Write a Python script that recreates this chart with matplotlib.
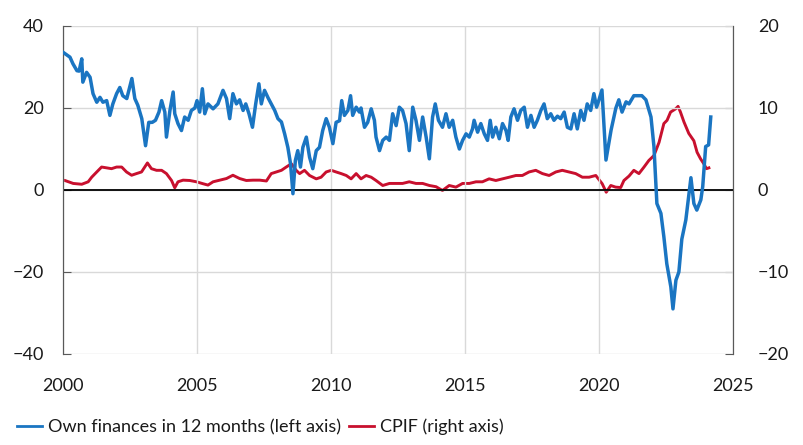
import matplotlib
matplotlib.use("Agg")
import matplotlib.pyplot as plt
from matplotlib.lines import Line2D

plt.rcParams['font.family'] = ['Lato', 'DejaVu Sans']

# Own finances in 12 months (left axis) - time in decimal years
blue_t = [2000.00, 2000.26, 2000.37, 2000.52, 2000.60, 2000.70, 2000.74, 2000.88,
          2001.01, 2001.12, 2001.26, 2001.38, 2001.49, 2001.63, 2001.75, 2001.86,
          2002.00, 2002.12, 2002.23, 2002.38, 2002.57, 2002.68, 2002.79, 2002.94,
          2003.08, 2003.20, 2003.33, 2003.45, 2003.58, 2003.68, 2003.80, 2003.86,
          2003.99, 2004.11, 2004.17, 2004.29, 2004.42, 2004.54, 2004.67, 2004.79,
          2004.92, 2005.00, 2005.10, 2005.20, 2005.29, 2005.41, 2005.60, 2005.78,
          2005.97, 2006.10, 2006.22, 2006.34, 2006.47, 2006.59, 2006.72, 2006.82,
          2006.94, 2007.07, 2007.19, 2007.31, 2007.40, 2007.52, 2007.65, 2007.77,
          2007.90, 2008.02, 2008.15, 2008.27, 2008.39, 2008.49, 2008.58, 2008.67,
          2008.76, 2008.86, 2008.95, 2009.08, 2009.20, 2009.32, 2009.45, 2009.57,
          2009.69, 2009.82, 2009.94, 2010.07, 2010.19, 2010.32, 2010.40, 2010.50,
          2010.63, 2010.73, 2010.81, 2010.94, 2011.06, 2011.12, 2011.25, 2011.37,
          2011.50, 2011.62, 2011.68, 2011.81, 2011.93, 2012.06, 2012.18, 2012.30,
          2012.43, 2012.55, 2012.67, 2012.80, 2012.92, 2013.05, 2013.17, 2013.30,
          2013.42, 2013.55, 2013.67, 2013.79, 2013.89, 2014.01, 2014.16, 2014.29,
          2014.41, 2014.54, 2014.66, 2014.79, 2014.91, 2015.04, 2015.16, 2015.28,
          2015.34, 2015.47, 2015.59, 2015.72, 2015.84, 2015.94, 2016.03, 2016.15,
          2016.28, 2016.40, 2016.53, 2016.61, 2016.71, 2016.83, 2016.96, 2017.08,
          2017.21, 2017.33, 2017.46, 2017.58, 2017.70, 2017.83, 2017.95, 2018.07,
          2018.20, 2018.32, 2018.45, 2018.57, 2018.70, 2018.82, 2018.95, 2019.07,
          2019.19, 2019.32, 2019.44, 2019.56, 2019.69, 2019.81, 2019.91, 2020.00,
          2020.11, 2020.26, 2020.45, 2020.63, 2020.74, 2020.86, 2021.01, 2021.12,
          2021.30, 2021.60, 2021.75, 2021.94, 2022.05, 2022.16, 2022.31, 2022.42,
          2022.53, 2022.68, 2022.76, 2022.87, 2022.98, 2023.09, 2023.24, 2023.43,
          2023.54, 2023.65, 2023.80, 2023.87, 2023.98, 2024.09, 2024.17]
blue_v = [33.6, 32.4, 30.8, 29.1, 29.0, 32.0, 26.3, 28.7,
          27.5, 23.5, 21.4, 22.6, 21.4, 21.8, 18.2, 21.0,
          23.5, 25.0, 23.0, 22.3, 27.2, 22.3, 20.7, 17.4,
          10.8, 16.5, 16.5, 17.0, 19.0, 21.8, 19.0, 12.9,
          19.4, 23.9, 18.6, 16.2, 14.5, 17.8, 17.0, 19.4,
          20.0, 21.8, 19.0, 24.7, 18.6, 21.0, 19.8, 21.0,
          24.3, 22.3, 17.4, 23.5, 21.0, 22.0, 19.4, 21.0,
          18.6, 15.3, 21.0, 25.9, 21.0, 24.3, 22.5, 21.0,
          19.4, 17.4, 16.6, 13.7, 10.4, 6.4, -0.9, 7.2,
          9.6, 5.6, 10.4, 12.9, 8.0, 5.2, 9.6, 10.4,
          14.5, 17.4, 15.3, 11.3, 16.5, 16.9, 21.8, 18.2,
          19.4, 23.0, 18.2, 20.2, 19.0, 20.0, 15.3, 16.5,
          19.8, 17.0, 12.9, 9.6, 12.1, 12.9, 12.1, 18.6,
          15.7, 20.2, 19.4, 16.2, 9.6, 20.2, 17.0, 12.1,
          17.8, 12.9, 7.6, 17.8, 21.0, 17.0, 15.3, 18.6,
          15.3, 17.0, 12.9, 10.0, 12.1, 13.7, 12.9, 14.9,
          17.0, 14.1, 16.2, 13.7, 12.1, 17.0, 12.9, 15.3,
          12.5, 16.2, 14.5, 12.1, 17.8, 19.8, 17.0, 19.4,
          20.2, 15.3, 18.2, 15.3, 17.0, 19.4, 21.0, 17.4,
          18.6, 17.0, 18.0, 17.4, 19.0, 15.3, 14.9, 18.6,
          14.9, 19.4, 17.0, 21.0, 19.4, 23.5, 20.2, 22.0,
          24.4, 7.3, 14.6, 20.0, 22.0, 19.0, 21.5, 21.0,
          23.0, 23.0, 22.0, 17.8, 10.6, -3.3, -5.7, -11.4,
          -18.0, -23.6, -29.0, -22.0, -20.0, -12.0, -7.3, 3.0,
          -3.3, -4.9, -2.4, 0.8, 10.6, 11.0, 17.8]

# CPIF (right axis)
red_t = [2000.00, 2000.07, 2000.38, 2000.70, 2000.94, 2001.07, 2001.26, 2001.44,
         2001.63, 2001.81, 2002.00, 2002.19, 2002.37, 2002.56, 2002.74, 2002.93,
         2003.15, 2003.30, 2003.49, 2003.68, 2003.86, 2004.05, 2004.17, 2004.29,
         2004.48, 2004.73, 2004.98, 2005.23, 2005.41, 2005.60, 2005.85, 2006.10,
         2006.34, 2006.59, 2006.84, 2007.09, 2007.34, 2007.59, 2007.77, 2007.96,
         2008.15, 2008.33, 2008.52, 2008.70, 2008.83, 2009.01, 2009.20, 2009.45,
         2009.63, 2009.82, 2010.01, 2010.19, 2010.38, 2010.57, 2010.75, 2010.94,
         2011.12, 2011.31, 2011.50, 2011.68, 2011.93, 2012.18, 2012.43, 2012.67,
         2012.92, 2013.17, 2013.42, 2013.67, 2013.92, 2014.16, 2014.41, 2014.66,
         2014.91, 2015.16, 2015.41, 2015.65, 2015.90, 2016.15, 2016.40, 2016.65,
         2016.90, 2017.14, 2017.39, 2017.64, 2017.89, 2018.14, 2018.39, 2018.63,
         2018.88, 2019.13, 2019.38, 2019.63, 2019.88, 2020.12, 2020.27, 2020.44,
         2020.62, 2020.81, 2020.93, 2021.12, 2021.30, 2021.49, 2021.68, 2021.86,
         2022.05, 2022.24, 2022.42, 2022.54, 2022.67, 2022.86, 2022.95, 2023.04,
         2023.17, 2023.35, 2023.54, 2023.66, 2023.79, 2023.91, 2024.01, 2024.10]
red_v = [1.2, 1.16, 0.8, 0.7, 1.0, 1.56, 2.2, 2.8,
         2.7, 2.6, 2.8, 2.8, 2.2, 1.8, 2.0, 2.2,
         3.3, 2.6, 2.4, 2.4, 2.0, 1.16, 0.27, 1.0,
         1.2, 1.16, 1.0, 0.76, 0.6, 1.0, 1.2, 1.4,
         1.8, 1.4, 1.16, 1.2, 1.2, 1.1, 2.0, 2.2,
         2.4, 2.8, 3.2, 2.4, 2.0, 2.4, 1.77, 1.36,
         1.56, 2.2, 2.4, 2.2, 2.0, 1.77, 1.36, 2.0,
         1.36, 1.77, 1.56, 1.16, 0.55, 0.8, 0.8, 0.8,
         1.0, 0.8, 0.8, 0.55, 0.4, -0.06, 0.55, 0.35,
         0.8, 0.8, 1.0, 1.0, 1.36, 1.16, 1.36, 1.56,
         1.77, 1.77, 2.2, 2.4, 2.0, 1.77, 2.2, 2.4,
         2.2, 2.0, 1.56, 1.56, 1.77, 0.76, -0.27, 0.55,
         0.35, 0.3, 1.16, 1.7, 2.4, 2.0, 2.8, 3.6,
         4.2, 5.8, 8.1, 8.5, 9.5, 9.9, 10.2, 9.5,
         8.3, 6.9, 6.0, 4.6, 3.8, 3.2, 2.6, 2.7]

left_ticks = [-40, -20, 0, 20, 40]
right_ticks = [-20, -10, 0, 10, 20]
x_ticks = [2000, 2005, 2010, 2015, 2020, 2025]

label_blue = "Own finances in 12 months (left axis)"
label_red = "CPIF (right axis)"

BLUE = "#1a75c2"
RED = "#c8102e"
GRID = "#d9d9d9"
SPINE = "#595959"
TEXT = "#1a1a1a"

fig = plt.figure(figsize=(8.04, 4.45), dpi=100)
ax = fig.add_axes([63/804, 1-354/445, (733-63)/804, (354-26)/445])
ax2 = ax.twinx()

ax.set_xlim(2000, 2025)
ax.set_ylim(-40, 40)
ax2.set_ylim(-20, 20)

ax.set_xticks(x_ticks)
ax.set_yticks(left_ticks)
ax2.set_yticks(right_ticks)

ax.grid(True, color=GRID, lw=1.0)
ax.set_axisbelow(True)
ax.axhline(0, color="black", lw=1.3, zorder=2)

ax2.plot(red_t, red_v, color=RED, lw=2.1, zorder=3)
ax.plot(blue_t, blue_v, color=BLUE, lw=2.5, zorder=4)
ax.set_zorder(ax2.get_zorder() + 1)
ax.patch.set_visible(False)

for a in (ax, ax2):
    a.spines['top'].set_visible(False)
    a.spines['bottom'].set_visible(False)
    a.spines['left'].set_color(SPINE)
    a.spines['right'].set_color(SPINE)

ax.tick_params(axis='y', direction='in', length=6, color=SPINE, labelsize=13,
               pad=14, labelcolor=TEXT)
ax2.tick_params(axis='y', direction='in', length=6, color=SPINE, labelsize=13,
                pad=18, labelcolor=TEXT)
ax.tick_params(axis='x', length=0, labelsize=13, pad=17, labelcolor=TEXT)

handles = [Line2D([], [], color=BLUE, lw=2.0), Line2D([], [], color=RED, lw=2.0)]
fig.legend(handles, [label_blue, label_red], loc='center left',
           bbox_to_anchor=(17/804, 1-427/445), ncol=2, frameon=False,
           fontsize=13, handlelength=1.4, handletextpad=0.3, columnspacing=0.45,
           borderaxespad=0, borderpad=0, labelcolor=TEXT)

fig.savefig("out.png", dpi=100)
